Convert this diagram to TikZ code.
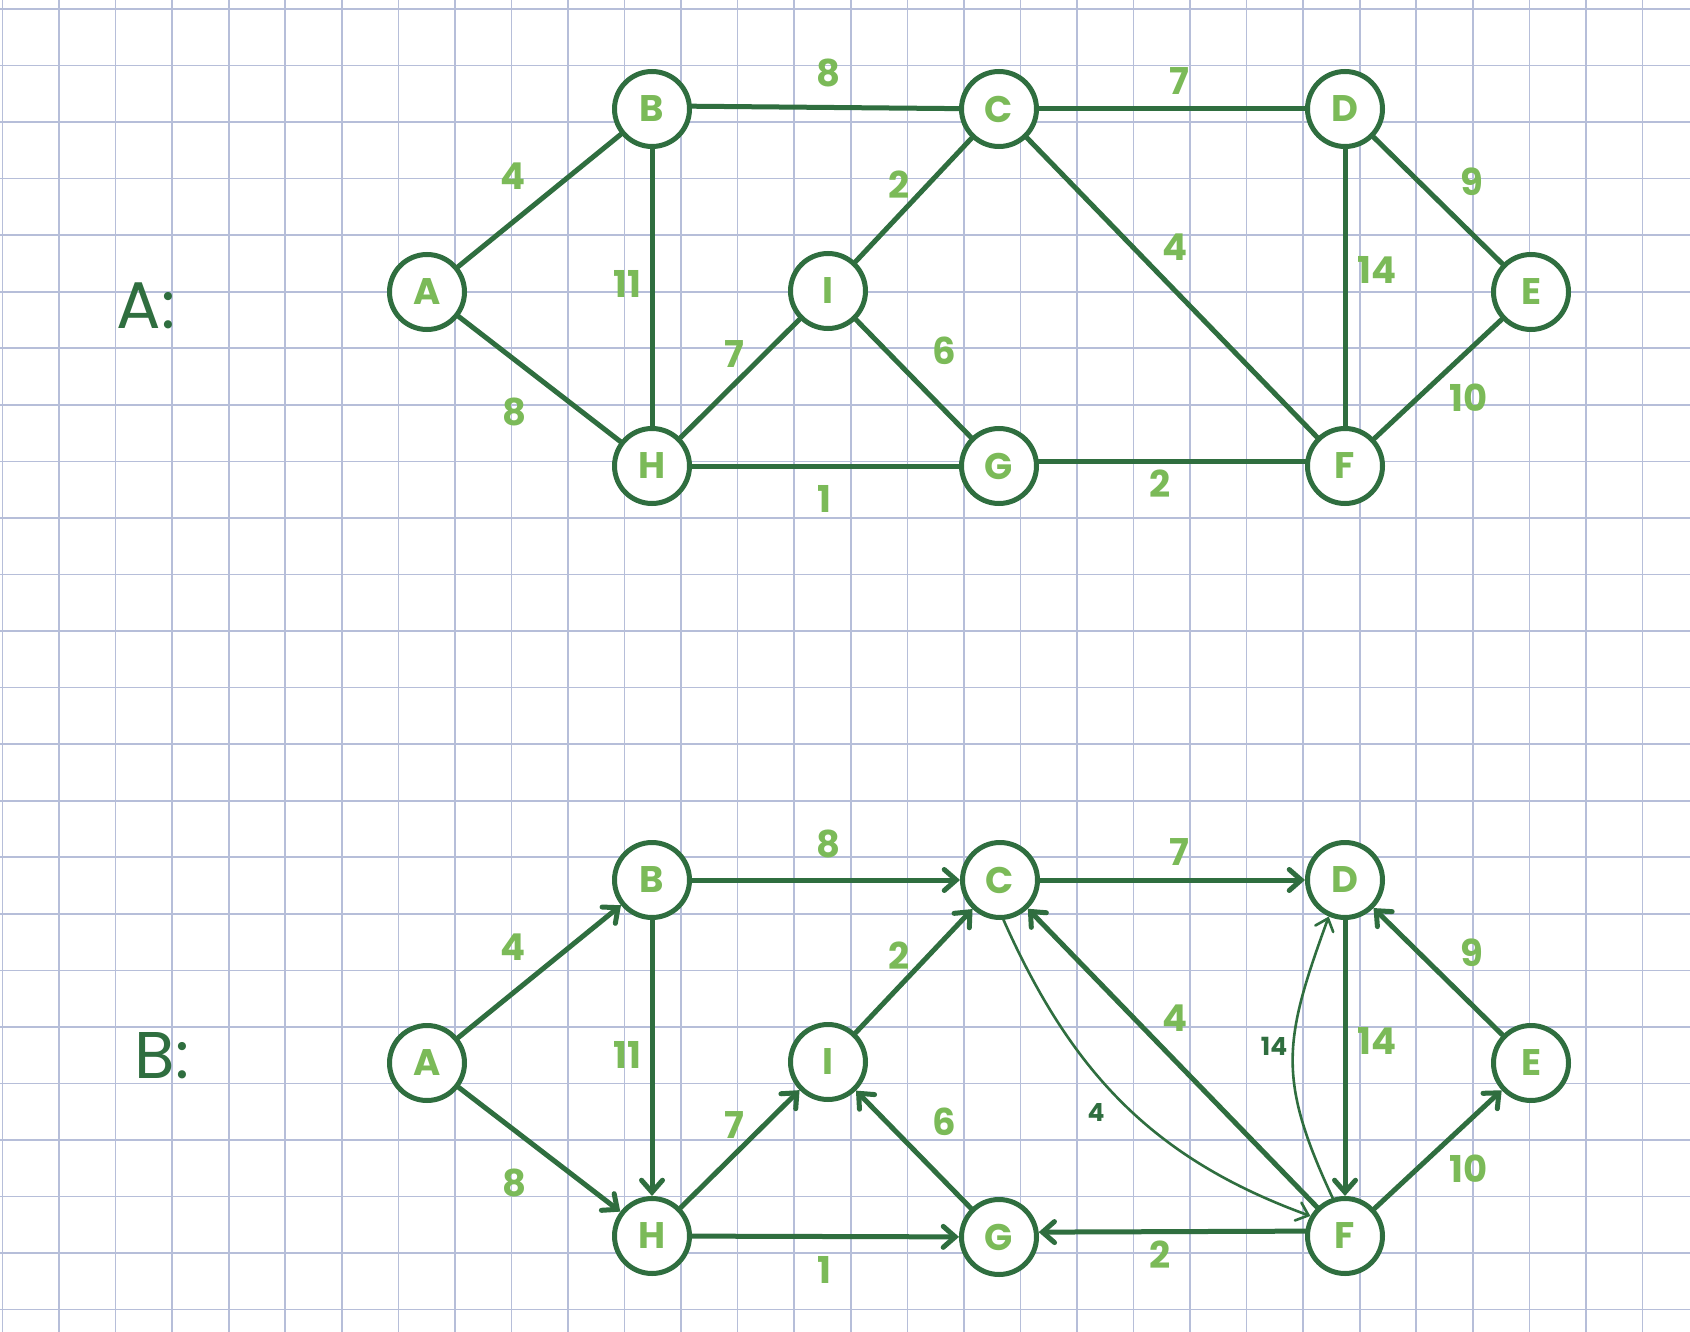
\documentclass[tikz,border=0pt]{standalone}
\usepackage{fontspec}
\setmainfont{Poppins}
\usetikzlibrary{arrows.meta}
\definecolor{ink}{HTML}{2F6E3F}
\definecolor{leaf}{HTML}{7BBA58}
\definecolor{paper}{HTML}{B6BED9}
\tikzset{
  gridln/.style={draw=paper, line width=1.6pt},
  vtx/.style={circle, draw=ink, fill=white, line width=5pt, minimum size=75pt, inner sep=0pt, text=leaf, font=\fontsize{37}{37}\selectfont\bfseries},
  edg/.style={draw=ink, line width=5pt, line cap=round},
  arc/.style={edg, -{Straight Barb[length=12pt,width=21pt,line cap=round]}},
  thin/.style={draw=ink, line width=2.6pt, line cap=round, -{Straight Barb[length=11pt,width=19pt,line cap=round]}},
  wt/.style={text=leaf, font=\fontsize{37}{37}\selectfont\bfseries},
  wts/.style={text=ink, font=\fontsize{25}{25}\selectfont\bfseries},
  ttl/.style={text=ink, font=\fontsize{66}{66}\selectfont},
}

\begin{document}
\begin{tikzpicture}[x=1pt, y=-1pt]
  \useasboundingbox (0,0) rectangle (1690,1332);
  \fill[white] (0,0) rectangle (1690,1332);
  \pgfmathsetmacro{\gs}{56.55} % grid step
  \foreach \i in {0,...,29} \draw[gridln] ({2.5+\gs*\i},0) -- ++(0,1332);
  \foreach \j in {0,...,23} \draw[gridln] (0,{9+\gs*\j}) -- ++(1690,0);

  \node[ttl] (ta) at (146,306) {A:};
  \node[ttl] (tb) at (162,1056) {B:};

  % graph A: undirected
  \node[vtx] (A1) at (427,292) {A};
  \node[vtx] (B1) at (652,109) {B};
  \node[vtx] (C1) at (999,109) {C};
  \node[vtx] (D1) at (1345,109) {D};
  \node[vtx] (E1) at (1531,292) {E};
  \node[vtx] (I1) at (828,291) {I};
  \node[vtx] (H1) at (652,466) {H};
  \node[vtx] (G1) at (999,466) {G};
  \node[vtx] (F1) at (1345,466) {F};
  \draw[edg] (A1) -- (B1);
  \draw[edg] (A1) -- (H1);
  \draw[edg] (B1.4) -- (C1);
  \draw[edg] (B1) -- (H1);
  \draw[edg] (C1) -- (D1);
  \draw[edg] (H1) -- (I1);
  \draw[edg] (H1) -- (G1);
  \draw[edg] (I1) -- (C1);
  \draw[edg] (I1) -- (G1);
  \draw[edg] (G1.7) -- (F1.173);
  \draw[edg] (C1) -- (F1);
  \draw[edg] (D1) -- (F1);
  \draw[edg] (D1) -- (E1);
  \draw[edg] (E1) -- (F1);
  \node[wt] (wab1) at (513,176) {4};
  \node[wt] (wah1) at (514,412) {8};
  \node[wt] (wbh1) at (627,284) {11};
  \node[wt] (wbc1) at (828,73) {8};
  \node[wt] (wic1) at (899,185) {2};
  \node[wt] (wcd1) at (1179,81) {7};
  \node[wt] (whi1) at (734,354) {7};
  \node[wt] (wig1) at (944,351) {6};
  \node[wt] (whg1) at (824,499) {1};
  \node[wt] (wcf1) at (1175,247) {4};
  \node[wt] (wgf1) at (1160,484) {2};
  \node[wt] (wde1) at (1472,182) {9};
  \node[wt] (wdf1) at (1377,270) {14};
  \node[wt] (wef1) at (1469,398) {10};

  % graph B: directed
  \node[vtx] (A2) at (427,1063) {A};
  \node[vtx] (B2) at (652,880) {B};
  \node[vtx] (C2) at (1000,880) {C};
  \node[vtx] (D2) at (1345,880) {D};
  \node[vtx] (E2) at (1531,1063) {E};
  \node[vtx] (I2) at (828,1062) {I};
  \node[vtx] (H2) at (652,1236) {H};
  \node[vtx] (G2) at (999,1237) {G};
  \node[vtx] (F2) at (1345,1236) {F};
  \draw[arc] (A2) -- (B2);
  \draw[arc] (A2) -- (H2);
  \draw[arc] (B2) -- (C2);
  \draw[arc] (B2) -- (H2);
  \draw[arc] (C2) -- (D2);
  \draw[arc] (H2) -- (I2);
  \draw[arc] (H2) -- (G2);
  \draw[arc] (I2) -- (C2);
  \draw[arc] (G2) -- (I2);
  \draw[arc] (F2.173) -- (G2.7);
  \draw[arc] (F2) -- (C2);
  \draw[arc] (D2) -- (F2);
  \draw[arc] (E2) -- (D2);
  \draw[arc] (F2) -- (E2);
  \draw[thin] (C2.-85) to[out=-66, in=160] (F2.150);
  \draw[thin] (F2.108) to[out=115, in=-110, looseness=1.2] (D2.246);
  \node[wt] (wab2) at (513,947) {4};
  \node[wt] (wah2) at (514,1183) {8};
  \node[wt] (wbh2) at (627,1055) {11};
  \node[wt] (wbc2) at (828,844) {8};
  \node[wt] (wic2) at (899,956) {2};
  \node[wt] (wcd2) at (1179,852) {7};
  \node[wt] (whi2) at (734,1125) {7};
  \node[wt] (wig2) at (944,1122) {6};
  \node[wt] (whg2) at (824,1270) {1};
  \node[wt] (wfc2) at (1175,1018) {4};
  \node[wt] (wfg2) at (1160,1255) {2};
  \node[wt] (wed2) at (1472,953) {9};
  \node[wt] (wdf2) at (1377,1041) {14};
  \node[wt] (wfe2) at (1469,1169) {10};
  \node[wts] (wcf2) at (1096,1112) {4};
  \node[wts] (wfd2) at (1274,1046) {14};
\end{tikzpicture}
\end{document}
